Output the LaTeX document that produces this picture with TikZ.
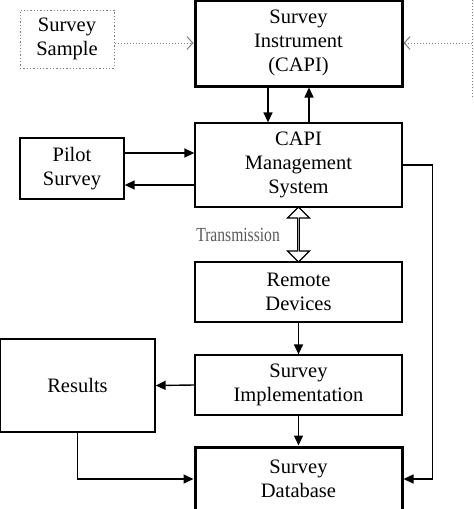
\documentclass[tikz,border=0pt]{standalone}
\usepackage{fontspec}
\setmainfont{Liberation Serif}
\usetikzlibrary{calc}
\usetikzlibrary{arrows.meta}
\usetikzlibrary{shapes.arrows}

\begin{document}
\begin{tikzpicture}[x=1pt, y=-1pt,
	box/.style={draw, line width=1.3pt, align=center, inner sep=0pt, font=\fontsize{20.5}{24}\selectfont},
	mainbox/.style={box, line width=3pt},
	link/.style={line width=1.4pt, -{Triangle[length=10pt,width=9pt]}},
	dotlink/.style={gray, line width=1pt, dotted, -{Straight Barb[length=6pt,width=13pt]}}]
				\clip (0,0) rectangle (474,509);
				
				\node[mainbox, minimum width=207pt, minimum height=86pt] (Inst) at (298.5,43) {Survey\\Instrument\\(CAPI)};
				\node[box, minimum width=207pt, minimum height=84pt] (CMS) at (298.5,165) {CAPI\\Management\\System};
				\node[box, minimum width=207pt, minimum height=60pt] (Remote) at (298.5,292) {Remote\\Devices};
				\node[box, minimum width=207pt, minimum height=60pt] (Impl) at (298.5,385) {Survey\\Implementation};
				\node[mainbox, minimum width=207pt, minimum height=64pt] (DB) at (298.5,479) {Survey\\Database};
				\node[box, minimum width=104pt, minimum height=61pt] (Pilot) at (72,168.5) {Pilot\\Survey};
				\node[box, minimum width=155pt, minimum height=93pt] (Results) at (77.5,385.5) {Results};
				\node[box, draw=gray, dotted, line width=1pt, minimum width=94pt, minimum height=58pt] (Sample) at (67,39) {Survey\\Sample};
				
				\node[double arrow, draw, line width=1.2pt, rotate=90, minimum height=55pt, minimum width=22pt, double arrow head extend=7pt, inner sep=0pt] (Trans) at ($(CMS.south)!0.5!(Remote.north)$) {};
				\node[anchor=east, black!65, inner sep=0pt, font=\fontsize{20}{24}\selectfont] (TransLabel) at ([xshift=-18.5pt]Trans.center) {\scalebox{0.78}[1]{Transmission}};
				
				\coordinate (FeedTop) at (472,0);
				\coordinate (FeedBot) at (472,98);
				\coordinate (Feed) at (472,43);
				
				\draw[dotlink] (Sample.east |- Inst.west) -- (Inst.west);
				\draw[gray, line width=1pt, dotted] (FeedTop) -- (FeedBot);
				\draw[dotlink] (Feed) -- (Inst.east);
				
				\draw[link] ([xshift=-30.5pt]Inst.south) -- ([xshift=-30.5pt]CMS.north);
				\draw[link] ([xshift=10.5pt]CMS.north) -- ([xshift=10.5pt]Inst.south);
				\draw[link] ([yshift=15.5pt]Pilot.east) -- ([yshift=15.5pt]Pilot.east -| CMS.west);
				\draw[link] ([yshift=-16.5pt]Pilot.east -| CMS.west) -- ([yshift=-16.5pt]Pilot.east);
				\draw[link] (CMS.east) -- ++(30,0) |- (DB.east);
				\draw[link] (Remote.south) -- (Impl.north);
				\draw[link] (Impl.west) -- (Results.east);
				\draw[link] (Impl.south) -- (DB.north);
				\draw[link] (Results.south) |- (DB.west);
			\end{tikzpicture}
\end{document}
